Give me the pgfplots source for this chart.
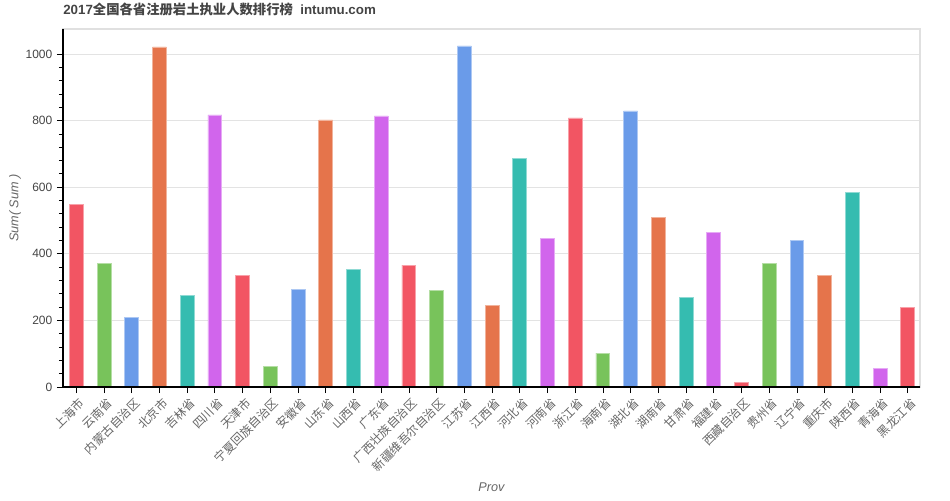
\documentclass[border=0pt]{standalone}
\usepackage{fontspec}
\setmainfont{Liberation Sans}
\newfontfamily\cjk{Noto Sans CJK SC}
\usepackage{pgfplots}
\pgfplotsset{compat=1.18}
\definecolor{cR}{HTML}{F25563}
\definecolor{cG}{HTML}{78C35B}
\definecolor{cB}{HTML}{6A9BE9}
\definecolor{cO}{HTML}{E5744B}
\definecolor{cT}{HTML}{35BCB0}
\definecolor{cP}{HTML}{D165EC}
\definecolor{txt}{HTML}{444444}
\definecolor{lab}{HTML}{666666}
\begin{document}
\begin{tikzpicture}
\begin{axis}[
  at={(0,0)}, anchor=south west,
  scale only axis, width=642.75pt, height=268.5pt,
  xmin=-0.48, xmax=30.44, ymin=0, ymax=1075,
  ybar, bar width=0.5, bar shift=0pt,
  xtick={0,...,30},
  xticklabels={上海市,云南省,内蒙古自治区,北京市,吉林省,四川省,天津市,宁夏回族自治区,安徽省,山东省,山西省,广东省,广西壮族自治区,新疆维吾尔自治区,江苏省,江西省,河北省,河南省,浙江省,海南省,湖北省,湖南省,甘肃省,福建省,西藏自治区,贵州省,辽宁省,重庆市,陕西省,青海省,黑龙江省},
  xticklabel style={font=\cjk\fontsize{9}{9}\selectfont, rotate=45, anchor=north east, text=lab, inner sep=1pt, yshift=-2pt},
  ytick={0,200,...,1000},
  minor y tick num=4,
  yticklabel style={font=\fontsize{9}{9}\selectfont, text=txt},
  /pgf/number format/assume math mode=true,
  /pgf/number format/1000 sep={},
  tick pos=left, tick align=outside,
  major tick length=4.5pt, minor tick length=3pt,
  tick style={black, line width=0.6pt},
  ymajorgrids, grid style={draw=black!11, line width=0.6pt},
  axis line style={draw=black!12, line width=0.8pt},
  title={\bfseries 2017{\cjk 全国各省注册岩土执业人数排行榜}\ \ intumu.com},
  title style={at={(axis description cs:0,1)}, anchor=west, yshift=9pt, inner sep=0pt, font=\fontsize{10}{10}\selectfont, text=txt},
  xlabel={Prov},
  ylabel={Sum( Sum )},
  every axis x label/.style={at={(axis description cs:0.5,0)}, yshift=-75pt, anchor=center, font=\itshape\fontsize{9.5}{9.5}\selectfont, text=lab},
  every axis y label/.style={at={(axis description cs:0,0.5)}, xshift=-36pt, rotate=90, anchor=center, font=\itshape\fontsize{9.5}{9.5}\selectfont, text=lab},
  after end axis/.code={\draw[black, line width=0.8pt] (rel axis cs:0,1) -- (rel axis cs:0,0) -- (rel axis cs:1,0);},
]
\addplot[fill=cR, draw=cR!55!white, line width=0.6pt] coordinates {(0,548) (6,336) (12,366) (18,808) (24,15) (30,240)};
\addplot[fill=cG, draw=cG!55!white, line width=0.6pt] coordinates {(1,372) (7,63) (13,291) (19,102) (25,372)};
\addplot[fill=cB, draw=cB!55!white, line width=0.6pt] coordinates {(2,210) (8,294) (14,1024) (20,829) (26,441)};
\addplot[fill=cO, draw=cO!55!white, line width=0.6pt] coordinates {(3,1021) (9,802) (15,246) (21,510) (27,336)};
\addplot[fill=cT, draw=cT!55!white, line width=0.6pt] coordinates {(4,276) (10,354) (16,685) (22,270) (28,583)};
\addplot[fill=cP, draw=cP!55!white, line width=0.6pt] coordinates {(5,817) (11,814) (17,447) (23,465) (29,57)};
\end{axis}
\pgfresetboundingbox
\path (-47.25pt,-84.75pt) rectangle (665.25pt,290.25pt);
\end{tikzpicture}
\end{document}
